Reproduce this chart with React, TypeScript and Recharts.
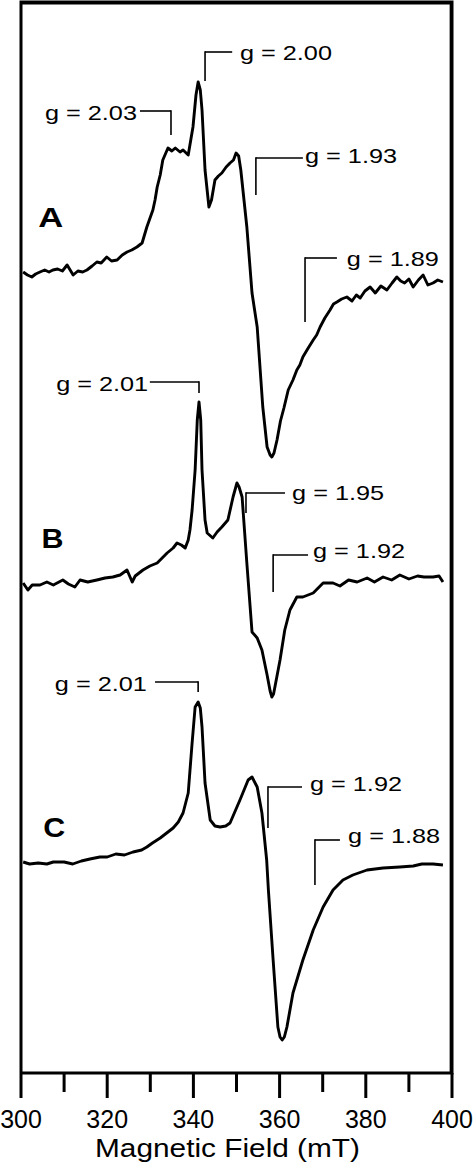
import {
  LineChart,
  Line,
  XAxis,
  YAxis,
  ReferenceLine,
  ReferenceDot,
} from 'recharts'

const FONT = '"Liberation Sans", Arial, Helvetica, sans-serif'

// spectrum A (field in mT, signal in arbitrary units above its baseline)
const fieldA = [
  300.5, 301.5, 302.5, 303.4, 304.4, 305.5, 306.5, 307.4, 308.5, 309.6, 310.7, 311.4, 312.1, 313.2, 314.3,
  315.3, 316.5, 317.6, 318.6, 319.9, 321.0, 322.3, 323.5, 324.6, 325.7, 326.9, 328.1, 329.2, 330.6, 331.1,
  331.6, 332.3, 332.9, 334.1, 335.0, 335.8, 336.9, 337.6, 338.8, 339.9, 340.6, 341.1, 341.6, 342.0, 342.7,
  343.6, 344.2, 345.0, 345.8, 346.6, 347.6, 348.5, 349.3, 349.9, 350.5, 351.0, 352.4, 353.6, 354.8, 356.1,
  357.1, 357.8, 358.2, 358.7, 359.4, 360.2, 361.0, 362.0, 363.1, 364.0, 364.7, 365.4, 366.5, 367.8, 368.6,
  369.4, 370.5, 371.7, 372.5, 373.3, 374.4, 375.6, 376.8, 377.8, 378.7, 379.8, 381.0, 382.2, 383.5, 384.9,
  386.1, 387.2, 388.1, 389.0, 390.0, 391.0, 392.2, 393.3, 394.4, 395.6, 396.7, 397.9,
]
const signalA = [
  -1, -4, -6, -3, -1, 1, -1, 1, 2, 0, 6, 1, -4, 0, -1,
  1, 5, 9, 8, 14, 10, 11, 16, 19, 21, 24, 28, 44, 61, 71,
  84, 96, 111, 123, 120, 123, 119, 121, 116, 144, 176, 189, 181, 161, 101,
  64, 71, 91, 95, 98, 104, 108, 111, 118, 115, 101, 44, -22, -56, -136,
  -176, -184, -186, -182, -169, -150, -137, -119, -109, -99, -94, -86, -78, -69, -64,
  -56, -47, -39, -33, -31, -28, -26, -30, -24, -27, -20, -16, -22, -15, -19,
  -12, -6, -10, -12, -8, -16, -9, -4, -14, -12, -9, -11,
]

// spectrum B
const fieldB = [
  300.5, 301.6, 302.6, 304.4, 306.0, 307.5, 309.7, 311.0, 312.5, 313.7, 315.5, 317.6, 319.5, 321.3, 323.0,
  324.6, 325.8, 326.5, 328.3, 329.9, 331.6, 333.9, 335.3, 336.2, 337.2, 338.1, 338.8, 339.2, 339.7, 340.4,
  340.9, 341.3, 341.7, 342.0, 342.7, 343.2, 344.5, 345.5, 346.6, 348.0, 349.2, 350.1, 350.6, 351.3, 352.4,
  353.6, 354.8, 355.9, 357.1, 357.8, 358.2, 358.6, 359.0, 360.1, 361.2, 362.4, 364.0, 365.4, 367.8, 370.1,
  372.4, 374.0, 376.0, 378.0, 380.3, 382.0, 384.0, 386.0, 387.9, 390.0, 392.0, 393.5, 395.6, 397.0, 397.9,
]
const signalB = [
  0, -7, -2, -2, 1, -2, 3, -1, -4, 3, 1, 3, 5, 6, 8,
  13, 1, 7, 13, 17, 20, 30, 35, 40, 38, 35, 43, 53, 73, 113,
  163, 181, 163, 113, 63, 50, 45, 51, 56, 63, 86, 100, 96, 86, 20,
  -49, -55, -67, -92, -108, -114, -111, -102, -77, -47, -27, -14, -14, -10, 0,
  0, -3, 3, 1, 5, 1, 6, 3, 8, 4, 7, 6, 6, 7, 1,
]

// spectrum C
const fieldC = [
  300.5, 302.0, 304.0, 306.0, 307.5, 310.0, 312.0, 314.0, 316.0, 318.3, 320.0, 322.0, 324.0, 326.0, 328.0,
  329.2, 330.5, 332.3, 333.5, 335.3, 336.5, 337.6, 338.8, 339.7, 340.4, 341.1, 341.6, 342.0, 342.7, 343.9,
  345.0, 346.2, 347.5, 348.5, 350.8, 352.7, 353.6, 354.8, 355.9, 357.0, 357.4, 358.5, 359.6, 360.1, 360.6,
  361.1, 361.7, 363.1, 365.4, 367.8, 370.1, 372.4, 374.7, 377.0, 380.3, 384.0, 387.9, 391.0, 393.0, 395.6,
  397.9,
]
const signalC = [
  0, -2, -1, -2, 0, 0, -2, 1, 3, 5, 5, 8, 7, 10, 12,
  15, 19, 24, 28, 34, 40, 49, 69, 119, 155, 160, 154, 135, 79, 42,
  36, 35, 36, 39, 62, 82, 85, 75, 49, 2, -28, -98, -165, -175, -178,
  -175, -165, -131, -98, -68, -45, -28, -18, -13, -8, -6, -5, -4, -2, -2,
  -3,
]

const panelNames = ['A', 'B', 'C']
const panelLetterField = [306.9, 307.3, 307.7]

const xTicks = [300, 310, 320, 330, 340, 350, 360, 370, 380, 390, 400]

// g-value markers: text, field of the marker stem, end of the arm, arm height, stem tip, text field
const gLabels = [
  'g = 2.03', 'g = 2.00', 'g = 1.93', 'g = 1.89',
  'g = 2.01', 'g = 1.95', 'g = 1.92',
  'g = 2.01', 'g = 1.92', 'g = 1.88',
]
const gStem = [334.8, 342.7, 354.5, 365.9, 341.3, 352.2, 358.5, 341.1, 357.3, 368.2]
const gArmEnd = [327.6, 349.0, 365.4, 373.3, 329.9, 361.25, 366.6, 331.1, 365.2, 374.0]
const gArmY = [962, 1021, 915, 815, 691, 580, 518, 391, 286, 233]
const gTipY = [938, 992, 878, 751, 680, 560, 481, 381, 245, 188]
const gTextField = [326.9, 350.8, 365.9, 375.6, 329.5, 362.9, 367.75, 329.2, 367.05, 375.9]
const gTextY = [961, 1021, 918, 815, 690, 581, 523, 390, 290, 238]

// vertical layout of the stacked traces
const Y_MAX = 1071
const baselines = [802, 490, 211]
const letterY = [856, 535, 246]

const toPoints = (field: number[], signal: number[], base: number) =>
  field.map((x, i) => ({ x, y: signal[i] + base }))

const traces = [
  toPoints(fieldA, signalA, baselines[0]),
  toPoints(fieldB, signalB, baselines[1]),
  toPoints(fieldC, signalC, baselines[2]),
]

// closed box around the plot (domain corners)
const frame = [
  { x: 300, y: 0 },
  { x: 300, y: Y_MAX },
  { x: 400, y: Y_MAX },
  { x: 400, y: 0 },
  { x: 300, y: 0 },
]

const AxisTick = (props: any) => {
  const { x, y, payload } = props
  const major = payload.value % 20 === 0
  return (
    <g>
      <line x1={x} x2={x} y1={y} y2={y + (major ? 25 : 19)} stroke="#000" strokeWidth={3} />
      {major && (
        <text x={x} y={y + 55} textAnchor="middle" fontSize={25} fontFamily={FONT} fill="#000">
          {payload.value}
        </text>
      )}
    </g>
  )
}

const AxisTitle = (props: any) => {
  const { viewBox } = props
  return (
    <text
      x={viewBox.x + viewBox.width / 2 - 9}
      y={viewBox.y + 84}
      textAnchor="middle"
      fontSize={25}
      fontFamily={FONT}
      fill="#000"
      textLength={265}
      lengthAdjust="spacingAndGlyphs"
    >
      Magnetic Field (mT)
    </text>
  )
}

export default function App() {
  return (
    <div style={{ position: 'absolute', left: 0, top: 0, background: '#fff' }}>
      <LineChart width={474} height={1166} margin={{ top: 2, right: 22, bottom: 0, left: 21 }}>
        <XAxis
          dataKey="x"
          type="number"
          domain={[300, 400]}
          ticks={xTicks}
          interval={0}
          tick={<AxisTick />}
          tickLine={false}
          axisLine={false}
          tickSize={0}
          tickMargin={0}
          height={93}
          label={{ content: <AxisTitle /> }}
        />
        <YAxis hide type="number" domain={[0, Y_MAX]} />
        <Line
          data={frame}
          dataKey="y"
          type="linear"
          stroke="#000"
          strokeWidth={3}
          strokeLinejoin="miter"
          dot={false}
          activeDot={false}
          isAnimationActive={false}
        />
        {/* right and top edges once more, a hair inside the box */}
        <ReferenceLine
          segment={[{ x: 399.8, y: 0 }, { x: 399.8, y: Y_MAX }]}
          stroke="#000"
          strokeWidth={3}
          ifOverflow="visible"
        />
        <ReferenceLine
          segment={[{ x: 300, y: Y_MAX - 1 }, { x: 400, y: Y_MAX - 1 }]}
          stroke="#000"
          strokeWidth={3}
          ifOverflow="visible"
        />
        {traces.map((pts, i) => (
          <Line
            key={panelNames[i]}
            data={pts}
            dataKey="y"
            type="linear"
            stroke="#000"
            strokeWidth={2.9}
            strokeLinejoin="round"
            dot={false}
            activeDot={false}
            isAnimationActive={false}
          />
        ))}
        {gLabels.map((_, i) => (
          <ReferenceLine
            key={'arm' + i}
            segment={[
              { x: gArmEnd[i], y: gArmY[i] },
              { x: gStem[i], y: gArmY[i] },
            ]}
            stroke="#000"
            strokeWidth={1.6}
            ifOverflow="visible"
          />
        ))}
        {gLabels.map((_, i) => (
          <ReferenceLine
            key={'stem' + i}
            segment={[
              { x: gStem[i], y: gArmY[i] + 0.8 },
              { x: gStem[i], y: gTipY[i] },
            ]}
            stroke="#000"
            strokeWidth={1.6}
            ifOverflow="visible"
          />
        ))}
        {gLabels.map((label, i) => (
          <ReferenceDot
            key={'g' + i}
            x={gTextField[i]}
            y={gTextY[i]}
            ifOverflow="visible"
            shape={(p: any) => (
              <text
                x={p.cx}
                y={p.cy + 7.5}
                textAnchor={gTextField[i] < gStem[i] ? 'end' : 'start'}
                fontSize={21}
                fontFamily={FONT}
                fill="#000"
                textLength={92}
                lengthAdjust="spacingAndGlyphs"
              >
                {label}
              </text>
            )}
          />
        ))}
        {panelNames.map((name, i) => (
          <ReferenceDot
            key={'panel' + name}
            x={panelLetterField[i]}
            y={letterY[i]}
            ifOverflow="visible"
            shape={(p: any) => (
              <text
                x={p.cx}
                y={p.cy + 10}
                textAnchor="middle"
                fontSize={28}
                fontWeight="bold"
                fontFamily={FONT}
                fill="#000"
                textLength={name === 'A' ? 25 : 22}
                lengthAdjust="spacingAndGlyphs"
              >
                {name}
              </text>
            )}
          />
        ))}
      </LineChart>
    </div>
  )
}
